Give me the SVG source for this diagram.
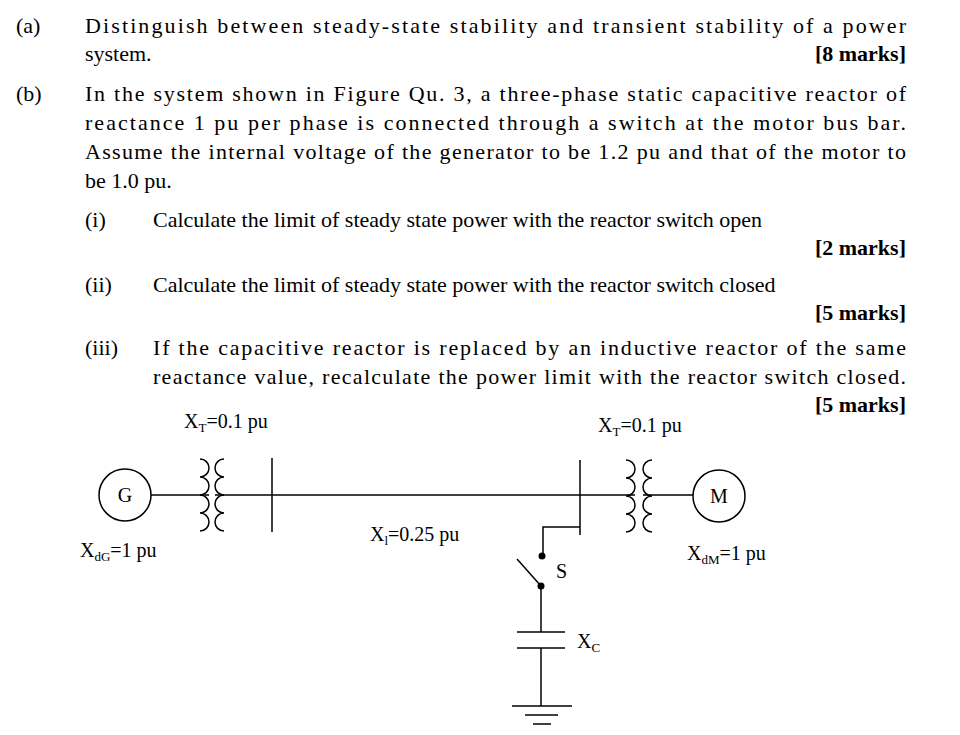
<svg xmlns="http://www.w3.org/2000/svg" width="960" height="735" viewBox="0 0 960 735">
<style>
.t{font-family:"Liberation Serif",serif;font-size:22px;fill:#000}
.b{font-weight:bold}
.f{font-family:"Liberation Serif",serif;font-size:20px;fill:#000}
.s{font-size:13px}
.w{stroke:#000;stroke-width:1.5;fill:none}
</style>
<rect width="960" height="735" fill="#fff"/>
<g id="text">
<text class="t" x="16" y="33">(a)</text>
<text class="t" x="85" y="33" textLength="821" lengthAdjust="spacing">Distinguish between steady-state stability and transient stability of a power</text>
<text class="t" x="85" y="61">system.</text>
<text class="t b" x="906" y="61" text-anchor="end">[8 marks]</text>
<text class="t" x="16" y="101">(b)</text>
<text class="t" x="85" y="101" textLength="821" lengthAdjust="spacing">In the system shown in Figure Qu. 3, a three-phase static capacitive reactor of</text>
<text class="t" x="85" y="130" textLength="821" lengthAdjust="spacing">reactance 1 pu per phase is connected through a switch at the motor bus bar.</text>
<text class="t" x="85" y="159" textLength="821" lengthAdjust="spacing">Assume the internal voltage of the generator to be 1.2 pu and that of the motor to</text>
<text class="t" x="85" y="188">be 1.0 pu.</text>
<text class="t" x="85" y="227">(i)</text>
<text class="t" x="153" y="227">Calculate the limit of steady state power with the reactor switch open</text>
<text class="t b" x="906" y="255" text-anchor="end">[2 marks]</text>
<text class="t" x="85" y="292">(ii)</text>
<text class="t" x="153" y="292">Calculate the limit of steady state power with the reactor switch closed</text>
<text class="t b" x="906" y="320" text-anchor="end">[5 marks]</text>
<text class="t" x="85" y="355">(iii)</text>
<text class="t" x="153" y="355" textLength="753" lengthAdjust="spacing">If the capacitive reactor is replaced by an inductive reactor of the same</text>
<text class="t" x="153" y="384" textLength="753" lengthAdjust="spacing">reactance value, recalculate the power limit with the reactor switch closed.</text>
<text class="t b" x="906" y="412" text-anchor="end">[5 marks]</text>
</g>
<g id="labels">
<text class="f" x="184" y="428">X<tspan class="s" dy="4">T</tspan><tspan dy="-4">=0.1 pu</tspan></text>
<text class="f" x="598" y="432">X<tspan class="s" dy="4">T</tspan><tspan dy="-4">=0.1 pu</tspan></text>
<text class="f" x="80" y="557">X<tspan class="s" dy="4">dG</tspan><tspan dy="-4">=1 pu</tspan></text>
<text class="f" x="687" y="560">X<tspan class="s" dy="4">dM</tspan><tspan dy="-4">=1 pu</tspan></text>
<text class="f" x="370" y="541">X<tspan class="s" dy="4">l</tspan><tspan dy="-4">=0.25 pu</tspan></text>
<text class="f" x="556" y="578">S</text>
<text class="f" x="577" y="648">X<tspan class="s" dy="4">C</tspan></text>
</g>
<g id="G"><circle class="w" cx="125" cy="495" r="26"/><text class="f" x="125" y="502" text-anchor="middle">G</text></g>
<g id="M"><circle class="w" cx="719" cy="496" r="26"/><text class="f" x="719" y="503" text-anchor="middle">M</text></g>
<g id="T1">
<path class="w" d="M200,459 a9,9 0 0 1 0,18 a9,9 0 0 1 0,18 a9,9 0 0 1 0,18 a9,9 0 0 1 0,18"/>
<path class="w" d="M224,459 a9,9 0 0 0 0,18 a9,9 0 0 0 0,18 a9,9 0 0 0 0,18 a9,9 0 0 0 0,18"/>
</g>
<g id="T2">
<path class="w" d="M626,460 a9,9 0 0 1 0,18 a9,9 0 0 1 0,18 a9,9 0 0 1 0,18 a9,9 0 0 1 0,18"/>
<path class="w" d="M652,460 a9,9 0 0 0 0,18 a9,9 0 0 0 0,18 a9,9 0 0 0 0,18 a9,9 0 0 0 0,18"/>
</g>
<g id="bus1"><line class="w" x1="272" y1="458" x2="272" y2="532"/></g>
<g id="bus2"><line class="w" x1="580" y1="460" x2="580" y2="535"/></g>
<g id="switch">
<circle cx="542" cy="556" r="3.5"/><circle cx="541" cy="586" r="3.5"/>
<line class="w" x1="517" y1="559" x2="541" y2="586"/>
</g>
<g id="cap">
<line class="w" x1="517" y1="632" x2="565" y2="632"/>
<line class="w" x1="517" y1="648" x2="565" y2="648"/>
</g>
<g id="ground">
<line class="w" x1="512" y1="706" x2="572" y2="706"/>
<line class="w" x1="525" y1="715" x2="558" y2="715"/>
<line class="w" x1="533" y1="724" x2="551" y2="724"/>
</g>
<g id="connectors">
<line class="w" x1="151" y1="495" x2="209" y2="495"/>
<line class="w" x1="215" y1="495" x2="635" y2="495"/>
<line class="w" x1="643" y1="495" x2="693" y2="495"/>
<polyline class="w" points="580,527 543,527 543,556"/>
<line class="w" x1="541" y1="586" x2="541" y2="632"/>
<line class="w" x1="541" y1="648" x2="541" y2="706"/>
</g>
</svg>
